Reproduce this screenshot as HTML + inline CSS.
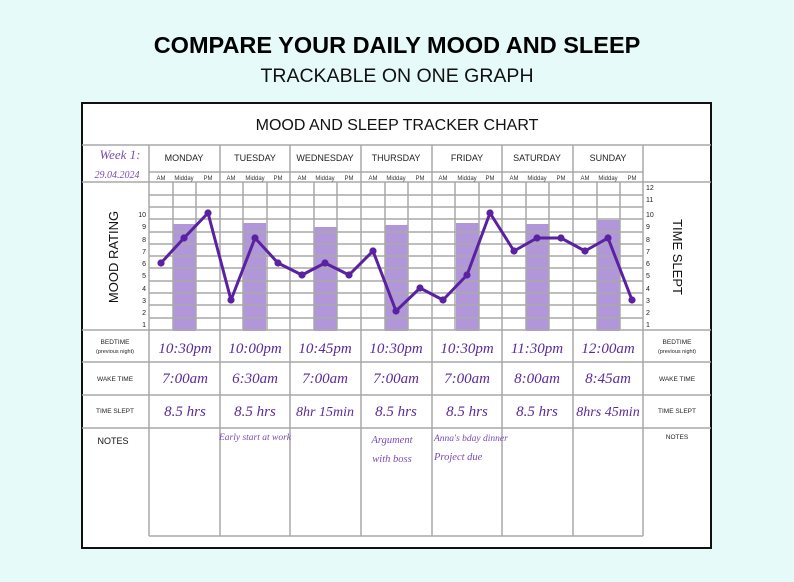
<!DOCTYPE html>
<html><head><meta charset="utf-8"><style>
html,body{margin:0;padding:0;background:#e6fbf9;}
svg{display:block}
</style></head><body>
<svg width="794" height="582" viewBox="0 0 794 582" xmlns="http://www.w3.org/2000/svg" font-family="Liberation Sans, sans-serif">
<rect width="794" height="582" fill="#e6fbf9"/>
<text x="397" y="53" text-anchor="middle" font-size="23.5" font-weight="bold" fill="#000">COMPARE YOUR DAILY MOOD AND SLEEP</text>
<text x="397" y="82" text-anchor="middle" font-size="19.5" fill="#111">TRACKABLE ON ONE GRAPH</text>
<rect x="82" y="103" width="629" height="445" fill="#fff" stroke="#111" stroke-width="2"/>
<text x="397" y="130" text-anchor="middle" font-size="16" fill="#111">MOOD AND SLEEP TRACKER CHART</text>
<g id="bars" fill="#b197d9">
<rect x="173" y="224" width="23" height="107"/>
<rect x="243" y="223" width="23" height="108"/>
<rect x="314" y="227" width="23" height="104"/>
<rect x="385" y="225" width="23" height="106"/>
<rect x="456" y="223" width="23" height="108"/>
<rect x="526" y="224" width="23" height="107"/>
<rect x="597" y="220" width="23" height="111"/>
</g>
<g stroke="#a8a8a8" stroke-width="1.5" fill="none">
<line x1="82" y1="145" x2="711" y2="145"/>
<line x1="149" y1="172" x2="643" y2="172"/>
<line x1="82" y1="182" x2="711" y2="182"/>
<line x1="149" y1="195" x2="643" y2="195"/>
<line x1="149" y1="207" x2="643" y2="207"/>
<line x1="149" y1="219" x2="643" y2="219"/>
<line x1="149" y1="232" x2="643" y2="232"/>
<line x1="149" y1="244" x2="643" y2="244"/>
<line x1="149" y1="256" x2="643" y2="256"/>
<line x1="149" y1="268" x2="643" y2="268"/>
<line x1="149" y1="281" x2="643" y2="281"/>
<line x1="149" y1="293" x2="643" y2="293"/>
<line x1="149" y1="305" x2="643" y2="305"/>
<line x1="149" y1="318" x2="643" y2="318"/>
<line x1="82" y1="330" x2="711" y2="330"/>
<line x1="82" y1="362" x2="711" y2="362"/>
<line x1="82" y1="395" x2="711" y2="395"/>
<line x1="82" y1="428" x2="711" y2="428"/>
<line x1="149" y1="536" x2="643" y2="536"/>
<line x1="149" y1="145" x2="149" y2="536"/>
<line x1="220" y1="145" x2="220" y2="536"/>
<line x1="290" y1="145" x2="290" y2="536"/>
<line x1="361" y1="145" x2="361" y2="536"/>
<line x1="432" y1="145" x2="432" y2="536"/>
<line x1="502" y1="145" x2="502" y2="536"/>
<line x1="573" y1="145" x2="573" y2="536"/>
<line x1="643" y1="145" x2="643" y2="536"/>
<line x1="173" y1="182" x2="173" y2="330"/><line x1="196" y1="182" x2="196" y2="330"/>
<line x1="243" y1="182" x2="243" y2="330"/><line x1="267" y1="182" x2="267" y2="330"/>
<line x1="314" y1="182" x2="314" y2="330"/><line x1="337" y1="182" x2="337" y2="330"/>
<line x1="385" y1="182" x2="385" y2="330"/><line x1="408" y1="182" x2="408" y2="330"/>
<line x1="455" y1="182" x2="455" y2="330"/><line x1="479" y1="182" x2="479" y2="330"/>
<line x1="526" y1="182" x2="526" y2="330"/><line x1="549" y1="182" x2="549" y2="330"/>
<line x1="597" y1="182" x2="597" y2="330"/><line x1="620" y1="182" x2="620" y2="330"/>
</g>
<g font-size="9" fill="#222" text-anchor="middle">
<text x="184" y="161">MONDAY</text><text x="255" y="161">TUESDAY</text><text x="325" y="161">WEDNESDAY</text>
<text x="396" y="161">THURSDAY</text><text x="467" y="161">FRIDAY</text><text x="537" y="161">SATURDAY</text><text x="608" y="161">SUNDAY</text>
</g>
<g font-size="6" fill="#333" text-anchor="middle">
<text x="161" y="180">AM</text><text x="184" y="180">Midday</text><text x="208" y="180">PM</text>
<text x="231" y="180">AM</text><text x="255" y="180">Midday</text><text x="278" y="180">PM</text>
<text x="302" y="180">AM</text><text x="325" y="180">Midday</text><text x="349" y="180">PM</text>
<text x="373" y="180">AM</text><text x="396" y="180">Midday</text><text x="420" y="180">PM</text>
<text x="443" y="180">AM</text><text x="467" y="180">Midday</text><text x="490" y="180">PM</text>
<text x="514" y="180">AM</text><text x="537" y="180">Midday</text><text x="561" y="180">PM</text>
<text x="585" y="180">AM</text><text x="608" y="180">Midday</text><text x="632" y="180">PM</text>
</g>
<g font-family="Liberation Serif, serif" font-style="italic" fill="#7a4bb5">
<text x="120" y="159" font-size="13" text-anchor="middle">Week 1:</text>
<text x="117" y="178" font-size="10" text-anchor="middle">29.04.2024</text>
</g>
<g font-size="7" fill="#222" text-anchor="end">
<text x="146" y="217">10</text><text x="146" y="229">9</text><text x="146" y="242">8</text><text x="146" y="254">7</text>
<text x="146" y="266">6</text><text x="146" y="278">5</text><text x="146" y="291">4</text><text x="146" y="303">3</text>
<text x="146" y="315">2</text><text x="146" y="327">1</text>
</g>
<g font-size="7" fill="#222">
<text x="646" y="190">12</text><text x="646" y="202">11</text><text x="646" y="217">10</text><text x="646" y="229">9</text><text x="646" y="242">8</text><text x="646" y="254">7</text>
<text x="646" y="266">6</text><text x="646" y="278">5</text><text x="646" y="291">4</text><text x="646" y="303">3</text>
<text x="646" y="315">2</text><text x="646" y="327">1</text>
</g>
<text transform="translate(118,257) rotate(-90)" text-anchor="middle" font-size="13" fill="#111">MOOD RATING</text>
<text transform="translate(673,257) rotate(90)" text-anchor="middle" font-size="13" fill="#111">TIME SLEPT</text>
<polyline fill="none" stroke="#5a22a0" stroke-width="3" stroke-linejoin="round" points="161,263 184,238 208,213 231,300 255,238 278,263 302,275 325,263 349,275 373,251 396,311 420,288 443,300 467,275 490,213 514,251 537,238 561,238 585,251 608,238 632,300"/>
<g fill="#5a22a0">
<circle cx="161" cy="263" r="3.6"/><circle cx="184" cy="238" r="3.6"/><circle cx="208" cy="213" r="3.6"/>
<circle cx="231" cy="300" r="3.6"/><circle cx="255" cy="238" r="3.6"/><circle cx="278" cy="263" r="3.6"/>
<circle cx="302" cy="275" r="3.6"/><circle cx="325" cy="263" r="3.6"/><circle cx="349" cy="275" r="3.6"/>
<circle cx="373" cy="251" r="3.6"/><circle cx="396" cy="311" r="3.6"/><circle cx="420" cy="288" r="3.6"/>
<circle cx="443" cy="300" r="3.6"/><circle cx="467" cy="275" r="3.6"/><circle cx="490" cy="213" r="3.6"/>
<circle cx="514" cy="251" r="3.6"/><circle cx="537" cy="238" r="3.6"/><circle cx="561" cy="238" r="3.6"/>
<circle cx="585" cy="251" r="3.6"/><circle cx="608" cy="238" r="3.6"/><circle cx="632" cy="300" r="3.6"/>
</g>
<g font-size="6.5" fill="#222" text-anchor="middle">
<text x="115" y="344">BEDTIME</text><text x="115" y="353" font-size="5.5">(previous night)</text>
<text x="115" y="381">WAKE TIME</text><text x="115" y="413">TIME SLEPT</text>
<text x="677" y="344">BEDTIME</text><text x="677" y="353" font-size="5.5">(previous night)</text>
<text x="677" y="381">WAKE TIME</text><text x="677" y="413">TIME SLEPT</text>
<text x="677" y="439">NOTES</text>
</g>
<text x="113" y="444" text-anchor="middle" font-size="9" fill="#111">NOTES</text>
<g font-family="Liberation Serif, serif" font-style="italic" fill="#5a2a9a" font-size="15" text-anchor="middle">
<text x="185" y="353">10:30pm</text><text x="255" y="353">10:00pm</text><text x="325" y="353">10:45pm</text>
<text x="396" y="353">10:30pm</text><text x="467" y="353">10:30pm</text><text x="537" y="353">11:30pm</text><text x="608" y="353">12:00am</text>
<text x="185" y="383">7:00am</text><text x="255" y="383">6:30am</text><text x="325" y="383">7:00am</text>
<text x="396" y="383">7:00am</text><text x="467" y="383">7:00am</text><text x="537" y="383">8:00am</text><text x="608" y="383">8:45am</text>
<text x="185" y="416">8.5 hrs</text><text x="255" y="416">8.5 hrs</text><text x="325" y="416" font-size="14">8hr 15min</text>
<text x="396" y="416">8.5 hrs</text><text x="467" y="416">8.5 hrs</text><text x="537" y="416">8.5 hrs</text><text x="608" y="416" font-size="14">8hrs 45min</text>
</g>
<g font-family="Liberation Serif, serif" font-style="italic" fill="#7a4bb5" font-size="9.5">
<text x="255" y="440" text-anchor="middle">Early start at work</text>
<text x="392" y="443" text-anchor="middle" font-size="10.5">Argument</text>
<text x="392" y="462" text-anchor="middle" font-size="10.5">with boss</text>
<text x="434" y="441">Anna's bday dinner</text>
<text x="434" y="460" font-size="10.5">Project due</text>
</g>
</svg>
</body></html>
